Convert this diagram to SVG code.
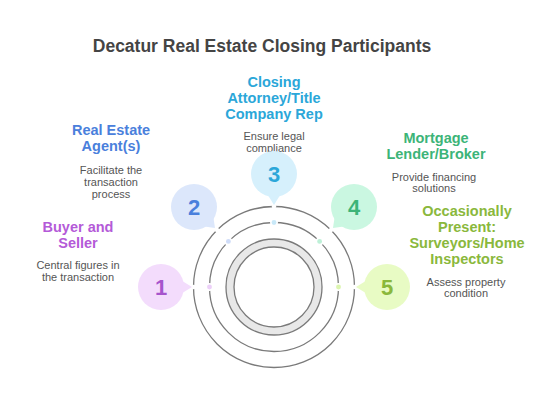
<svg xmlns="http://www.w3.org/2000/svg" width="549" height="400" viewBox="0 0 549 400">
<style>
text{font-family:"Liberation Sans",Arial,sans-serif;text-anchor:middle}
.title{font-size:17.5px;font-weight:bold;fill:#444}
.h{font-size:14.5px;font-weight:bold}
.d{font-size:11px;fill:#555}
.num{font-size:22px;font-weight:bold}
.ring{fill:none;stroke:#7a7a7a;stroke-width:1.3}
.c1{fill:#b45ad8}.c2{fill:#4a80dc}.c3{fill:#2ba7d9}.c4{fill:#3cb478}.c5{fill:#8ab83c}
.b1{fill:#f3dcfc}.b2{fill:#dce7fb}.b3{fill:#d6f0fc}.b4{fill:#caf7e1}.b5{fill:#e8fbc4}
.gap{fill:#fff}
.dot{stroke:#fff;stroke-width:1.5}
</style>
<rect width="549" height="400" fill="#fff"/>
<text class="title" x="262" y="52">Decatur Real Estate Closing Participants</text>

<g id="connectors">
<circle class="ring" cx="274" cy="287" r="80.5"/>
<circle class="ring" cx="274" cy="287" r="64.5"/>
<circle cx="274" cy="287" r="44" fill="none" stroke="#e8e8e8" stroke-width="8"/>
<circle class="ring" cx="274" cy="287" r="48"/>
<circle class="ring" cx="274" cy="287" r="40"/>
<circle class="gap" cx="193.5" cy="287" r="2.2"/>
<circle class="gap" cx="217" cy="230" r="2.2"/>
<circle class="gap" cx="274" cy="206.5" r="2.2"/>
<circle class="gap" cx="331" cy="230" r="2.2"/>
<circle class="gap" cx="354.5" cy="287" r="2.2"/>
<circle class="dot" cx="209.5" cy="287" r="3.2" fill="#ecd0f8"/>
<circle class="dot" cx="228.4" cy="241.4" r="3.2" fill="#cfdcf8"/>
<circle class="dot" cx="274" cy="222.5" r="3.2" fill="#c8e8f8"/>
<circle class="dot" cx="319.6" cy="241.4" r="3.2" fill="#bdf0d7"/>
<circle class="dot" cx="338.5" cy="287" r="3.2" fill="#dcf5b0"/>
</g>

<g id="node1">
<text class="h c1" x="78" y="232">Buyer and</text>
<text class="h c1" x="78" y="248">Seller</text>
<text class="d" x="78" y="269">Central figures in</text>
<text class="d" x="78" y="280.5">the transaction</text>
<circle class="b1" cx="161" cy="287" r="23"/>
<polygon class="b1" points="179,279 192,287 179,295"/>
<text class="num" x="161" y="295" fill="#a654cc">1</text>
</g>

<g id="node2">
<text class="h c2" x="111" y="135">Real Estate</text>
<text class="h c2" x="111" y="151">Agent(s)</text>
<text class="d" x="111" y="174">Facilitate the</text>
<text class="d" x="111" y="186">transaction</text>
<text class="d" x="111" y="198">process</text>
<circle class="b2" cx="194" cy="207" r="23"/>
<polygon class="b2" points="200.9,225.9 215,228 212.9,213.9"/>
<text class="num" x="194" y="215" fill="#4a80dc">2</text>
</g>

<g id="node3">
<text class="h c3" x="274" y="87">Closing</text>
<text class="h c3" x="274" y="103">Attorney/Title</text>
<text class="h c3" x="274" y="119">Company Rep</text>
<text class="d" x="274" y="140">Ensure legal</text>
<text class="d" x="274" y="152">compliance</text>
<circle class="b3" cx="274" cy="174" r="23"/>
<polygon class="b3" points="266,192 274,205 282,192"/>
<text class="num" x="274" y="182" fill="#2ba7d9">3</text>
</g>

<g id="node4">
<text class="h c4" x="436" y="143">Mortgage</text>
<text class="h c4" x="436" y="159">Lender/Broker</text>
<text class="d" x="434" y="180.5">Provide financing</text>
<text class="d" x="434" y="192">solutions</text>
<circle class="b4" cx="354" cy="207" r="23"/>
<polygon class="b4" points="335.1,213.9 333,228 347.1,225.9"/>
<text class="num" x="354" y="215" fill="#3cb478">4</text>
</g>

<g id="node5">
<text class="h c5" x="467" y="215.5">Occasionally</text>
<text class="h c5" x="467" y="231.5">Present:</text>
<text class="h c5" x="467" y="248">Surveyors/Home</text>
<text class="h c5" x="467" y="264">Inspectors</text>
<text class="d" x="466" y="285.5">Assess property</text>
<text class="d" x="466" y="296.5">condition</text>
<circle class="b5" cx="387" cy="287" r="23"/>
<polygon class="b5" points="369,279 356,287 369,295"/>
<text class="num" x="387" y="295" fill="#8ab83c">5</text>
</g>
</svg>
